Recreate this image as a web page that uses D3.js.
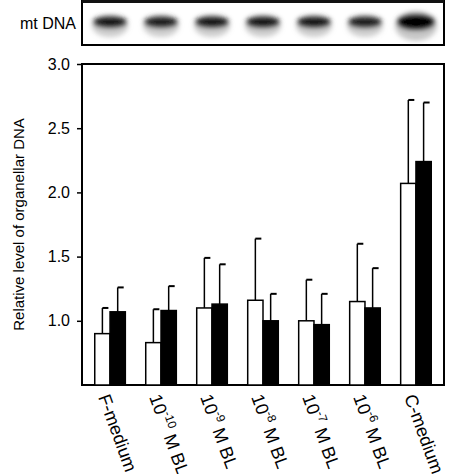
<!DOCTYPE html><html><head><meta charset="utf-8"><script src="https://cdn.jsdelivr.net/npm/d3@7"></script>
<style>body{margin:0;background:#fff}svg{font-family:Arial,"Liberation Sans",sans-serif}</style></head><body>
<script>
const categories=["F-medium","10^-10 M BL","10^-9 M BL","10^-8 M BL","10^-7 M BL","10^-6 M BL","C-medium"];
const whiteVals=[0.90,0.83,1.10,1.16,1.00,1.15,2.07];
const whiteErr=[1.10,1.09,1.49,1.64,1.32,1.60,2.72];
const blackVals=[1.07,1.08,1.13,1.00,0.97,1.10,2.24];
const blackErr=[1.26,1.27,1.44,1.21,1.21,1.41,2.70];
const bandIntensity=[0.9,0.85,0.9,0.9,0.9,0.85,1.0];
const yTicks=[1.0,1.5,2.0,2.5,3.0];
const W=474,H=474,L=82,R=444,T=64,B=385;
const svg=d3.select("body").append("svg").attr("width",W).attr("height",H);
const x=d3.scaleBand().domain(categories).range([L,R]).paddingInner(0.4).paddingOuter(0.25);
const y=d3.scaleLinear().domain([0.5,3.0]).range([B,T]);
const defs=svg.append("defs");
defs.append("filter").attr("id","bl").attr("x","-50%").attr("y","-100%").attr("width","200%").attr("height","300%")
 .append("feGaussianBlur").attr("stdDeviation","2.5 2.5");
svg.append("rect").attr("x",L).attr("y",-2).attr("width",R-L).attr("height",47).attr("fill","#fff").attr("stroke","#000").attr("stroke-width",2);
svg.append("rect").attr("x",L).attr("y",0).attr("width",R-L).attr("height",3).attr("fill","#111");
const bl=svg.append("g").attr("filter","url(#bl)");
categories.forEach((c,i)=>{
  const cx=x(c)+x.bandwidth()/2;
  bl.append("ellipse").attr("cx",cx).attr("cy",26).attr("rx",i==6?21:18).attr("ry",i==6?15:11).attr("fill","#999").attr("opacity",0.55*bandIntensity[i]);
  bl.append("ellipse").attr("cx",cx).attr("cy",22).attr("rx",i==6?19:17).attr("ry",i==6?8:6).attr("fill","#000").attr("opacity",bandIntensity[i]);
});
svg.append("text").attr("x",76).attr("y",29).attr("text-anchor","end").attr("font-size",16).text("mt DNA");
svg.append("rect").attr("x",L).attr("y",T).attr("width",R-L).attr("height",B-T).attr("fill","none").attr("stroke","#000").attr("stroke-width",2);
const ya=svg.append("g").attr("transform",`translate(${L},0)`).call(d3.axisLeft(y).tickValues(yTicks).tickFormat(d3.format(".1f")).tickSize(5).tickSizeOuter(0));
ya.select(".domain").remove();
ya.selectAll("text").attr("font-size",16).attr("fill","#000").attr("dx","-4");
ya.selectAll("line").attr("stroke-width",1.5);
svg.append("text").attr("transform",`translate(24,${(T+B)/2}) rotate(-90)`).attr("text-anchor","middle").attr("font-size",15).text("Relative level of organellar DNA");
const bw=x.bandwidth()/2;
const g=svg.append("g");
function bars(vals,errs,off,fill){
  categories.forEach((c,i)=>{
    const bx=x(c)+off, cx=bx+bw/2;
    g.append("line").attr("x1",cx).attr("x2",cx).attr("y1",y(errs[i])).attr("y2",y(vals[i])).attr("stroke","#000").attr("stroke-width",1.5);
    g.append("line").attr("x1",cx).attr("x2",cx+6).attr("y1",y(errs[i])).attr("y2",y(errs[i])).attr("stroke","#000").attr("stroke-width",2);
    g.append("rect").attr("x",bx).attr("y",y(vals[i])).attr("width",bw).attr("height",B-y(vals[i])).attr("fill",fill).attr("stroke","#000").attr("stroke-width",1.5);
  });
}
bars(whiteVals,whiteErr,0,"#fff");
bars(blackVals,blackErr,bw,"#000");
categories.forEach(c=>{
  const t=svg.append("text").attr("transform",`translate(${x(c)+x.bandwidth()/2-12},${B+12}) rotate(70)`).attr("font-size",18);
  const m=c.match(/^10\^(-\d+)(.*)$/);
  if(m){t.append("tspan").text("10");t.append("tspan").attr("font-size",12).attr("dy",-8).text(m[1]);t.append("tspan").attr("dy",8).text(m[2]);}
  else t.text(c);
});
</script></body></html>
